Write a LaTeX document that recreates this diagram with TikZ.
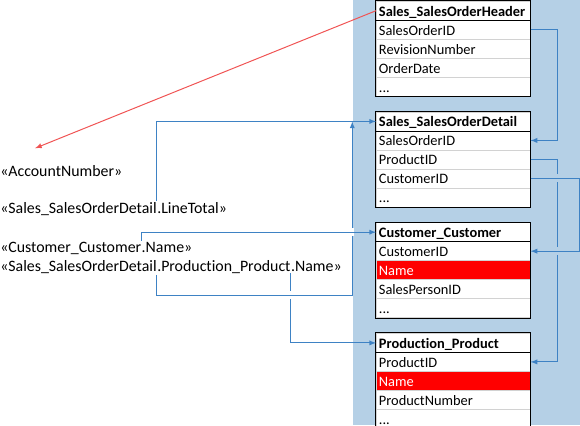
\documentclass[tikz,border=0pt]{standalone}
\usepackage{fontspec}
\setmainfont{Carlito}[Ligatures=NoCommon]
\usetikzlibrary{arrows, calc, matrix, positioning}
\definecolor{bgblue}{RGB}{181,208,230}
\definecolor{conblue}{RGB}{62,130,196}
\definecolor{rowgray}{RGB}{210,210,210}
\definecolor{arrred}{RGB}{240,84,84}
\tikzset{
  % connector style
  garr/.style={
    draw=conblue, line width=0.75pt
  },
  % hides a line where another one crosses it
  linegap/.style={draw=#1, line width=2.2pt},
  % text on the left
  lbl/.style={anchor=west, inner xsep=0pt, inner ysep=1pt,
    font=\fontsize{11.9}{14}\selectfont},
  % one table
  tbl/.style={matrix of nodes,
    row sep=-0.4pt,
    inner sep=0pt,
    nodes={draw=rowgray, fill=white, line width=0.4pt,
      font=\fontsize{10.8}{13}\selectfont,
      minimum height=14.25pt, text width=111.5pt,
      text height=10.6pt, text depth=2.6pt,
      inner xsep=2pt, inner ysep=0pt,
      anchor=center, align=left},
  },
  ttl/.style={font=\fontsize{10.8}{13}\selectfont\bfseries},
  namerow/.style={fill=red, text=white},
}

\begin{document}
\begin{tikzpicture}
  \useasboundingbox (0,0) rectangle (435pt,-318.75pt);
  \fill[bgblue] (264.75pt,0) rectangle (435pt,-318.75pt);

  % tables
  \matrix (hdr) [tbl, anchor=north west] at (281.8pt,-0.5pt) {
    |[ttl]| Sales\_SalesOrderHeader \\ % hdr-1-1
    SalesOrderID \\
    RevisionNumber \\
    OrderDate \\
    ... \\
  };
  \matrix (det) [tbl, below=11pt of hdr] {
    |[ttl]| Sales\_SalesOrderDetail \\ % det-1-1
    SalesOrderID \\
    ProductID \\
    CustomerID \\
    ... \\
  };
  \matrix (cus) [tbl, below=11pt of det] {
    |[ttl]| Customer\_Customer \\ % cus-1-1
    CustomerID \\
    |[namerow]| Name \\
    SalesPersonID \\
    ... \\
  };
  \matrix (prd) [tbl, below=11pt of cus] {
    |[ttl]| Production\_Product \\ % prd-1-1
    ProductID \\
    |[namerow]| Name \\
    ProductNumber \\
    ... \\
  };
  \foreach \tb in {hdr,det,cus,prd}{
    \draw[line width=0.75pt] (\tb.north west) rectangle (\tb.south east);
    \draw[line width=0.75pt] (\tb-1-1.south west) -- (\tb-1-1.south east);
  }

  % merge fields
  \node[lbl] (acct) at (0,-128pt) {«AccountNumber»};
  \node[lbl] (lt1) at (0,-156.75pt) {«Sales\_SalesOrderDetail};
  \node[lbl, base right=0pt of lt1] (lt2) {.LineTotal»};
  \node[lbl] (cn1) at (0,-186.2pt) {«Customer\_Customer};
  \node[lbl, base right=0pt of cn1] (cn2) {.Name»};
  \node[lbl] (sp1) at (0,-200pt) {«Sales\_SalesOrderDetail};
  \node[lbl, base right=0pt of sp1] (sp2) {.Production\_Product};
  \node[lbl, base right=0pt of sp2] (sp3) {.Name»};
  \coordinate (acctpt) at (26.25pt,-111.2pt);
  \coordinate (bus) at (264.2pt,-221.25pt);

  \draw[arrred, line width=0.75pt, -latex] (hdr-1-1.west) -- (acctpt);

  % keys between the tables
  \draw[garr,-latex] (hdr-2-1.east) -- ++(20pt,0) |- (det-2-1.east);
  \draw[garr,-latex] (det-3-1.east) -- ++(20pt,0) coordinate (pbus) |- (prd-2-1.east);
  \coordinate (jx1) at (pbus |- det-4-1.east);
  \coordinate (jx2) at (pbus |- cus-2-1.east);
  \draw[linegap=bgblue] ([yshift=3pt]jx1) -- ([yshift=-3pt]jx1);
  \draw[linegap=bgblue] ([yshift=3pt]jx2) -- ([yshift=-3pt]jx2);
  \draw[garr,-latex] (det-4-1.east) -- ++(36.5pt,0) |- (cus-2-1.east);

  % fields to tables
  \draw[garr,-latex] (lt2.north west) |- (det-1-1.west);
  \draw[garr,-latex] (sp3.south west) |- (prd-1-1.west);
  \coordinate (jx3) at (sp3.south west |- bus);
  \draw[linegap=white] ([yshift=3pt]jx3) -- ([yshift=-3pt]jx3);
  \draw[garr,-latex] (sp2.south west) |- (bus) -- (bus |- det-1-1.west);
  \coordinate (jx4) at (bus |- cus-1-1.west);
  \draw[linegap=white] ([yshift=3pt]jx4) -- ([yshift=-3pt]jx4);
  \draw[garr,-latex] (cn2.north west) |- (cus-1-1.west);
\end{tikzpicture}
\end{document}
